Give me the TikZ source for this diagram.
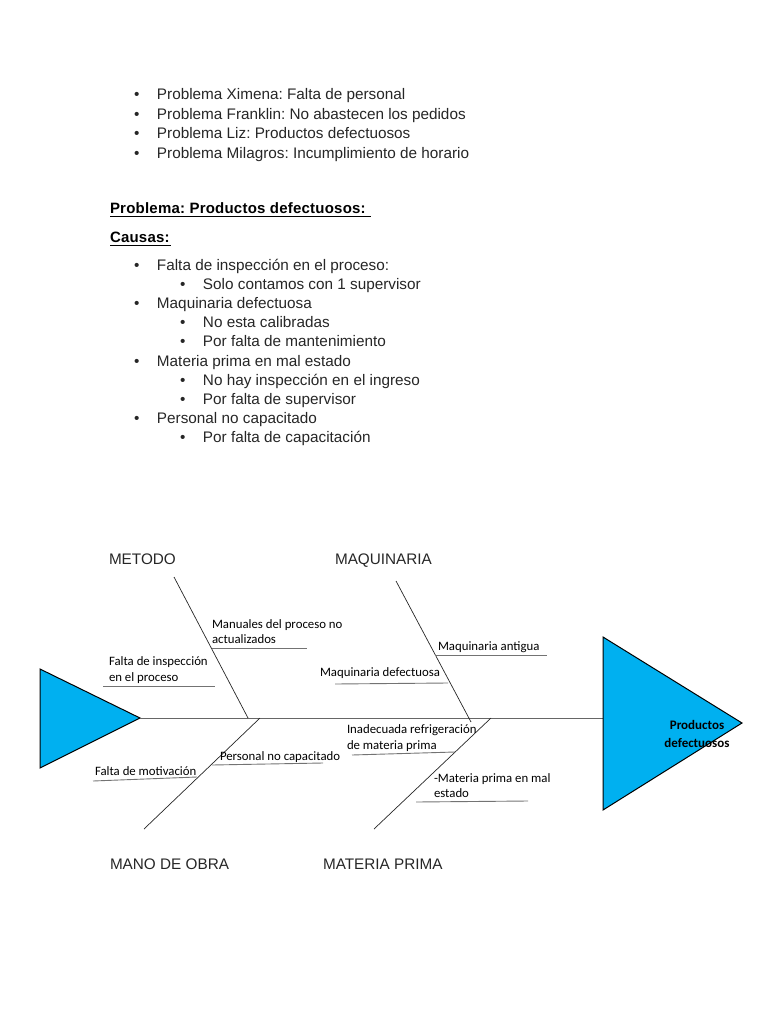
\documentclass[tikz,border=0pt]{standalone}
\usepackage{fontspec}
\setmainfont{Liberation Sans}
\newfontfamily\calfont{Carlito}
\definecolor{fishblue}{RGB}{0,176,240}
\newcommand{\bul}{\makebox[23pt][l]{\raisebox{0pt}{•}}}
\frenchspacing
\begin{document}
\begin{tikzpicture}[x=1pt,y=-1pt,
  every node/.style={inner sep=0pt, outer sep=0pt},
  body/.style={anchor=base west, font=\fontsize{15.3}{18}\selectfont, text=black!85},
  head/.style={anchor=base west, font=\fontsize{15}{18}\selectfont\bfseries\addfontfeature{LetterSpace=1.5}},
  cat/.style={anchor=base west, font=\fontsize{15.3}{18}\selectfont, text=black!85},
  cause/.style={anchor=base west, font=\calfont\fontsize{12.8}{15}\selectfont},
  effect/.style={anchor=base, font=\calfont\bfseries\fontsize{13}{15}\selectfont},
  bone/.style={line width=0.7pt, black!85},
  spine/.style={line width=0.9pt, black!60},
  twig/.style={line width=0.9pt, black!55},
  ulin/.style={line width=1pt, black},
  headtri/.style={fill=fishblue, draw=black, line width=1pt, line join=miter}]
\useasboundingbox (0,0) rectangle (768,1024);

% ---- top list
\node[body] (p1) at (134,100) {\bul Problema Ximena: Falta de personal};
\node[body] (p2) at (134,119.5) {\bul Problema Franklin: No abastecen los pedidos};
\node[body] (p3) at (134,139) {\bul Problema Liz: Productos defectuosos};
\node[body] (p4) at (134,158.5) {\bul Problema Milagros: Incumplimiento de horario};

% ---- headings
\node[head] (h1) at (110,214) {Problema: Productos defectuosos:};
\coordinate (h1a) at (110,216.5); \coordinate (h1b) at (371,216.5);
\draw[ulin] (h1a) -- (h1b);
\node[head] (h2) at (110,243) {Causas:};
\coordinate (h2a) at (110,245.5); \coordinate (h2b) at (171,245.5);
\draw[ulin] (h2a) -- (h2b);

% ---- causes list
\node[body] (c1) at (134,270) {\bul Falta de inspección en el proceso:};
\node[body] (c1a) at (180,289.2) {\bul Solo contamos con 1 supervisor};
\node[body] (c2) at (134,308.4) {\bul Maquinaria defectuosa};
\node[body] (c2a) at (180,327.6) {\bul No esta calibradas};
\node[body] (c2b) at (180,346.8) {\bul Por falta de mantenimiento};
\node[body] (c3) at (134,366) {\bul Materia prima en mal estado};
\node[body] (c3a) at (180,385.2) {\bul No hay inspección en el ingreso};
\node[body] (c3b) at (180,404.4) {\bul Por falta de supervisor};
\node[body] (c4) at (134,423.6) {\bul Personal no capacitado};
\node[body] (c4a) at (180,442.8) {\bul Por falta de capacitación};

% ---- category labels
\node[cat] (metodo) at (109,564) {METODO};
\node[cat] (maq) at (335,564) {MAQUINARIA};
\node[cat] (mano) at (110,869) {MANO DE OBRA};
\node[cat] (mat) at (323,869) {MATERIA PRIMA};

% ---- head and tail
\coordinate (lt1) at (40,669); \coordinate (lt2) at (40,768); \coordinate (ltip) at (140,718);
\draw[headtri] (lt1) -- (ltip) -- (lt2) -- cycle;
\coordinate (rt1) at (603,637); \coordinate (rt2) at (603,810); \coordinate (rtip) at (742,723);
\coordinate (sp2) at (603,718);
\draw[spine] (ltip) -- (sp2);
\draw[headtri] (rt1) -- (rtip) -- (rt2) -- cycle;
\node[effect] (eff1) at (697,729) {Productos};
\node[effect] (eff2) at (697,747) {defectuosos};

% ---- bones
\coordinate (b1s) at (174,577); \coordinate (b1e) at (248,718);
\coordinate (b2s) at (396,581); \coordinate (b2e) at (471,722);
\coordinate (b3s) at (260,718); \coordinate (b3e) at (144,829);
\coordinate (b4s) at (491,718); \coordinate (b4e) at (374,829);
\draw[bone] (b1s) -- (b1e);
\draw[bone] (b2s) -- (b2e);
\draw[bone] (b3s) -- (b3e);
\draw[bone] (b4s) -- (b4e);

% ---- sub causes
\node[cause] (m1a) at (212,628) {Manuales del proceso no};
\node[cause] (m1b) at (212,643.5) {actualizados};
\coordinate (t1a) at (212,648); \coordinate (t1b) at (307,648);
\draw[twig] (t1a) -- (t1b);

\node[cause] (m2a) at (109,665.5) {Falta de inspección};
\node[cause] (m2b) at (109,681) {en el proceso};
\coordinate (t2a) at (103,686); \coordinate (t2b) at (215,686);
\draw[twig] (t2a) -- (t2b);

\node[cause] (q1) at (438,650) {Maquinaria antigua};
\coordinate (t3a) at (435,655); \coordinate (t3b) at (547,655);
\draw[twig] (t3a) -- (t3b);

\node[cause] (q2) at (320,676.5) {Maquinaria defectuosa};
\coordinate (t4a) at (335,684); \coordinate (t4b) at (448,683);
\draw[twig] (t4a) -- (t4b);

\node[cause] (o1) at (220,760) {Personal no capacitado};
\coordinate (t5a) at (212,765); \coordinate (t5b) at (323,763);
\draw[twig] (t5a) -- (t5b);

\node[cause] (o2) at (95,775) {Falta de motivación};
\coordinate (t6a) at (93,781); \coordinate (t6b) at (197,777);
\draw[twig] (t6a) -- (t6b);

\node[cause] (r1a) at (347,733.5) {Inadecuada refrigeración};
\node[cause] (r1b) at (347,749) {de materia prima};
\coordinate (t7a) at (352,755); \coordinate (t7b) at (455,752);
\draw[twig] (t7a) -- (t7b);

\node[cause] (r2a) at (434,782) {-Materia prima en mal};
\node[cause] (r2b) at (434,797.5) {estado};
\coordinate (t8a) at (416,802); \coordinate (t8b) at (528,801);
\draw[twig] (t8a) -- (t8b);
\end{tikzpicture}
\end{document}
